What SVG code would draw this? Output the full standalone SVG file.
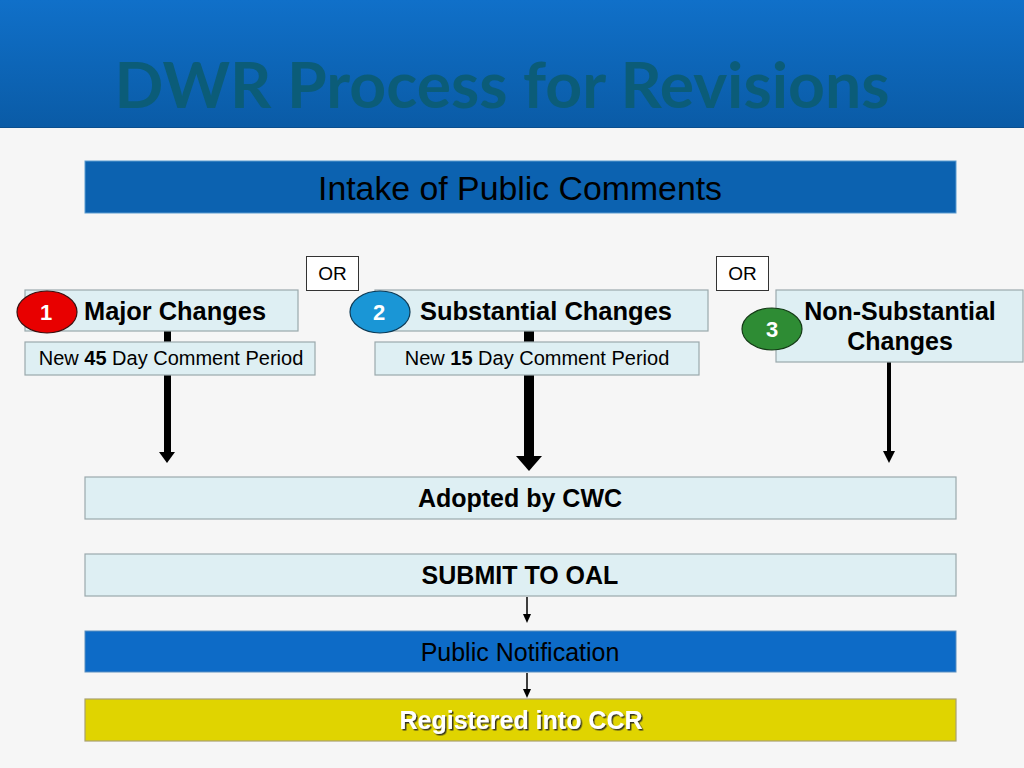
<svg xmlns="http://www.w3.org/2000/svg" width="1024" height="768" viewBox="0 0 1024 768">
<defs>
<linearGradient id="hdr" x1="0" y1="0" x2="0" y2="1">
<stop offset="0" stop-color="#1070c9"/>
<stop offset="1" stop-color="#0a5ba6"/>
</linearGradient>
<filter id="sh" x="-10%" y="-30%" width="120%" height="160%">
<feDropShadow dx="1.5" dy="1.5" stdDeviation="0.6" flood-color="#222" flood-opacity="0.9"/>
</filter>
<style>
.lt{fill:#deeff3;stroke:#9aa8ac;stroke-width:1.2}
.t{font-family:"Liberation Sans",Arial,sans-serif;fill:#000}
.b{font-weight:bold;font-size:25px}
.r{font-size:25px}
.s{font-size:20px}
.num{font-family:"Liberation Sans",Arial,sans-serif;font-weight:bold;font-size:22px;fill:#fff}
.ar{fill:#000}
</style>
</defs>
<rect width="1024" height="768" fill="#f6f6f6"/>
<g id="header">
<rect x="0" y="0" width="1024" height="128" fill="url(#hdr)"/>
<line x1="0" y1="127.5" x2="1024" y2="127.5" stroke="#0a4f8f" stroke-width="1"/>
<text x="502" y="108" text-anchor="middle" font-family="Lato,'Open Sans',sans-serif" font-weight="bold" font-size="64" fill="#0b5c78" textLength="775" lengthAdjust="spacingAndGlyphs">DWR Process for Revisions</text>
</g>
<g id="connectors">
<rect class="ar" x="164" y="331" width="7" height="122"/>
<polygon class="ar" points="159,452 175,452 167,463"/>
<rect class="ar" x="524" y="331" width="10" height="126"/>
<polygon class="ar" points="516,456 542,456 529,471"/>
<rect class="ar" x="887" y="362" width="4" height="90"/>
<polygon class="ar" points="883,451 895,451 889,463"/>
<line x1="527" y1="597" x2="527" y2="615" stroke="#000" stroke-width="1.5"/>
<polygon class="ar" points="523,614 531,614 527,623"/>
<line x1="527" y1="673" x2="527" y2="690" stroke="#000" stroke-width="1.5"/>
<polygon class="ar" points="523,689 531,689 527,698"/>
</g>
<g id="intake">
<rect x="85" y="161" width="871" height="52" fill="#0c62b0" stroke="#5a9bd0" stroke-width="1"/>
<text class="t" x="520" y="200" text-anchor="middle" font-size="34" textLength="404" lengthAdjust="spacingAndGlyphs">Intake of Public Comments</text>
</g>
<g id="or1">
<rect x="306.5" y="256.5" width="52" height="34" fill="#fff" stroke="#333" stroke-width="1"/>
<text class="t" x="332.5" y="280" text-anchor="middle" font-size="19">OR</text>
</g>
<g id="or2">
<rect x="716.5" y="256.5" width="52" height="34" fill="#fff" stroke="#333" stroke-width="1"/>
<text class="t" x="742.5" y="280" text-anchor="middle" font-size="19">OR</text>
</g>
<g id="major">
<rect class="lt" x="25" y="290" width="273" height="41"/>
<text class="t b" x="84" y="320" textLength="182" lengthAdjust="spacingAndGlyphs">Major Changes</text>
<ellipse cx="47" cy="312" rx="30" ry="21" fill="#e80000" stroke="#3a1010" stroke-width="1.2"/>
<text class="num" x="46" y="320" text-anchor="middle">1</text>
</g>
<g id="major-period">
<rect class="lt" x="25" y="342" width="290" height="33"/>
<text class="t s" x="171" y="365" text-anchor="middle">New <tspan font-weight="bold">45</tspan> Day Comment Period</text>
</g>
<g id="substantial">
<rect class="lt" x="375" y="290" width="333" height="41"/>
<text class="t b" x="420" y="320" textLength="252" lengthAdjust="spacingAndGlyphs">Substantial Changes</text>
<ellipse cx="380" cy="312" rx="30" ry="21" fill="#1a96d6" stroke="#0d3a55" stroke-width="1.2"/>
<text class="num" x="379" y="320" text-anchor="middle">2</text>
</g>
<g id="substantial-period">
<rect class="lt" x="375" y="342" width="324" height="33"/>
<text class="t s" x="537" y="365" text-anchor="middle">New <tspan font-weight="bold">15</tspan> Day Comment Period</text>
</g>
<g id="nonsubstantial">
<rect class="lt" x="776" y="290" width="247" height="72"/>
<text class="t b" x="900" y="320" text-anchor="middle">Non-Substantial</text>
<text class="t b" x="900" y="350" text-anchor="middle">Changes</text>
<ellipse cx="772" cy="329" rx="30" ry="21" fill="#2e8c34" stroke="#143a16" stroke-width="1.2"/>
<text class="num" x="772" y="337" text-anchor="middle">3</text>
</g>
<g id="adopted">
<rect class="lt" x="85" y="477" width="871" height="42"/>
<text class="t b" x="520" y="507" text-anchor="middle">Adopted by CWC</text>
</g>
<g id="submit">
<rect class="lt" x="85" y="554" width="871" height="42"/>
<text class="t b" x="520" y="584" text-anchor="middle">SUBMIT TO OAL</text>
</g>
<g id="notification">
<rect x="85" y="631" width="871" height="41" fill="#0d6bc7" stroke="#5a8fc0" stroke-width="1"/>
<text class="t r" x="520" y="661" text-anchor="middle">Public Notification</text>
</g>
<g id="registered">
<rect x="85" y="699" width="871" height="42" fill="#e0d400" stroke="#a8a070" stroke-width="1.2"/>
<text x="521" y="729" text-anchor="middle" font-family="'Liberation Sans',Arial,sans-serif" font-weight="bold" font-size="25" fill="#fff" filter="url(#sh)">Registered into CCR</text>
</g>
</svg>
